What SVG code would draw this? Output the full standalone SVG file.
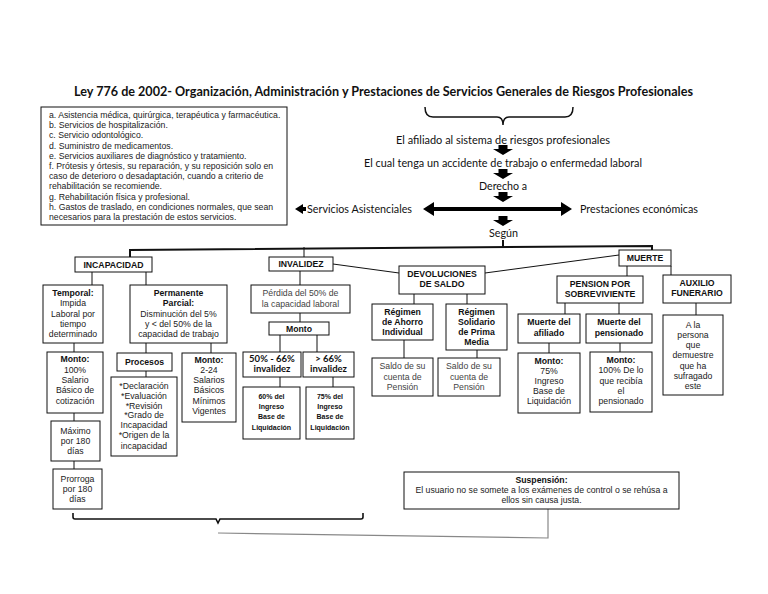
<svg xmlns="http://www.w3.org/2000/svg" xmlns:xlink="http://www.w3.org/1999/xlink" width="768" height="594" viewBox="0 0 768 594">
<defs>
<style>
.box{fill:#fff;stroke:#111;stroke-width:1}
.ln{fill:none;stroke:#111;stroke-width:1}
.thick{fill:none;stroke:#111;stroke-width:2}
text{font-family:"Liberation Sans",Arial,sans-serif;font-size:8.7px;fill:#222;text-anchor:middle}
.b{font-weight:bold;fill:#111}
.l{text-anchor:start}
.g{fill:#444}
.cal{font-family:Lato,"Open Sans",sans-serif;fill:#111}
.calb{font-family:Lato,"Open Sans",sans-serif;font-weight:bold;fill:#111}
.sm{font-size:7px;font-weight:bold;fill:#111}
</style>
<path id="down" d="M-4.5 0 H4.5 V4 H10 L0 10 L-10 4 H-4.5 Z" fill="#000"/>
</defs>
<rect width="768" height="594" fill="#fff"/>

<text class="calb" x="383.5" y="96" style="font-size:13px" textLength="619" lengthAdjust="spacingAndGlyphs">Ley 776 de 2002- Organización, Administración y Prestaciones de Servicios Generales de Riesgos Profesionales</text>

<g id="connectors">
<path class="ln" style="stroke-width:1.5" d="M425 107 Q425 117 433 117 L497 117 Q503 117 503 125 Q503 117 509 117 L565 117 Q573 117 573 107"/>
<use xlink:href="#down" x="503" y="145"/>
<use xlink:href="#down" x="503" y="169"/>
<use xlink:href="#down" x="503" y="192"/>
<use xlink:href="#down" x="503" y="216"/>
<path d="M423 209 L434 202 L434 207 L561 207 L561 202 L572 209 L561 216 L561 211 L434 211 L434 216 Z" fill="#000"/>
<path d="M295 209 L303 204 L303 207 L306 207 L306 211 L303 211 L303 214 Z" fill="#000"/>
<path class="thick" d="M503 240 L503 247"/>
<path class="thick" d="M130 257 L130 250 L652 246 L652 250"/>
<path class="ln" d="M304 247 L304 257"/>
<path class="ln" d="M92 272 L92 285 M146 272 L146 285"/>
<path class="ln" d="M74 343 L74 352 M74 413 L74 421 M74 461 L74 469"/>
<path class="ln" d="M146 343 L146 353 M146 371 L146 377 M211 343 L211 353"/>
<path class="ln" d="M300 271 L300 285 M300 313 L300 322 M280 335 L280 352 M317 335 L317 352 M280 377 L280 387 M333 377 L333 387"/>
<path class="ln" d="M333 264 L399 273 M485 273 L619 255"/>
<path class="ln" d="M414 294 L414 304 M467 294 L467 304 M404 340 L404 358 M477 350 L477 358"/>
<path class="ln" d="M627 266 L627 276 M671 266 L671 275 M696 303 L696 315"/>
<path class="ln" d="M565 303 L565 314 M619 303 L619 314 M549 343 L549 353 M620 343 L620 352"/>
<path class="ln" style="stroke-width:1.6" d="M73 513 L73 517 Q73 519 75 519 L216 519 L218 523 L220 519 L361 519 Q363 519 363 517 L363 513"/>
<path fill="none" stroke="#888" stroke-width="1.2" d="M218 533 L548 538 L548 509"/>
</g>

<g id="center-texts">
<text class="cal" x="503" y="144" style="font-size:11px" textLength="214" lengthAdjust="spacingAndGlyphs">El afiliado al sistema de riesgos profesionales</text>
<text class="cal" x="503" y="167" style="font-size:11px" textLength="278" lengthAdjust="spacingAndGlyphs">El cual tenga un accidente de trabajo o enfermedad laboral</text>
<text class="cal" x="503" y="190" style="font-size:11px" textLength="48" lengthAdjust="spacingAndGlyphs">Derecho a</text>
<text class="cal l" x="307" y="213" style="font-size:11px" textLength="105" lengthAdjust="spacingAndGlyphs">Servicios Asistenciales</text>
<text class="cal l" x="580" y="213" style="font-size:11px" textLength="118" lengthAdjust="spacingAndGlyphs">Prestaciones económicas</text>
<text class="cal" x="503.5" y="237" style="font-size:11px" textLength="29" lengthAdjust="spacingAndGlyphs">Según</text>
</g>

<g id="servicios-lista">
<rect class="box" x="41" y="107" width="246" height="118"/>
<text class="l" x="49" y="118">a. Asistencia médica, quirúrgica, terapéutica y farmacéutica.</text>
<text class="l" x="49" y="128.2">b. Servicios de hospitalización.</text>
<text class="l" x="49" y="138.4">c. Servicio odontológico.</text>
<text class="l" x="49" y="148.6">d. Suministro de medicamentos.</text>
<text class="l" x="49" y="158.8">e. Servicios auxiliares de diagnóstico y tratamiento.</text>
<text class="l" x="49" y="169">f. Prótesis y órtesis, su reparación, y su reposición solo en</text>
<text class="l" x="49" y="179.2">caso de deterioro o desadaptación, cuando a criterio de</text>
<text class="l" x="49" y="189.4">rehabilitación se recomiende.</text>
<text class="l" x="49" y="199.6">g. Rehabilitación física y profesional.</text>
<text class="l" x="49" y="209.8">h. Gastos de traslado, en condiciones normales, que sean</text>
<text class="l" x="49" y="220">necesarios para la prestación de estos servicios.</text>
</g>

<g id="incapacidad">
<rect class="box" x="75" y="257" width="77" height="15"/>
<text class="b" x="113.5" y="267.5">INCAPACIDAD</text>
</g>
<g id="temporal">
<rect class="box" x="43" y="285" width="60" height="58"/>
<text class="b" x="73" y="296">Temporal:</text>
<text x="73" y="306">Impida</text>
<text x="73" y="316.5">Laboral por</text>
<text x="73" y="327">tiempo</text>
<text x="73" y="337">determinado</text>
</g>
<g id="permanente">
<rect class="box" x="130" y="285" width="97" height="58"/>
<text class="b" x="178.5" y="296">Permanente</text>
<text class="b" x="178.5" y="306">Parcial:</text>
<text x="178.5" y="316.5">Disminución del 5%</text>
<text x="178.5" y="327">y &lt; del 50% de la</text>
<text x="178.5" y="337">capacidad de trabajo</text>
</g>
<g id="monto-temporal">
<rect class="box" x="47" y="352" width="56" height="61"/>
<text class="b" x="75" y="362">Monto:</text>
<text x="75" y="372.5">100%</text>
<text x="75" y="383">Salario</text>
<text x="75" y="393">Básico de</text>
<text x="75" y="403.5">cotización</text>
</g>
<g id="maximo">
<rect class="box" x="51" y="421" width="49" height="40"/>
<text x="75.5" y="434">Máximo</text>
<text x="75.5" y="444">por 180</text>
<text x="75.5" y="454">días</text>
</g>
<g id="prorroga">
<rect class="box" x="53" y="469" width="49" height="40"/>
<text x="77.5" y="482">Prorroga</text>
<text x="77.5" y="492">por 180</text>
<text x="77.5" y="502">días</text>
</g>
<g id="procesos">
<rect class="box" x="117" y="353" width="55" height="18"/>
<text class="b" x="144.5" y="365">Procesos</text>
</g>
<g id="procesos-lista">
<rect class="box" x="111" y="377" width="66" height="79"/>
<text x="144" y="389">*Declaración</text>
<text x="144" y="399">*Evaluación</text>
<text x="144" y="408.5">*Revisión</text>
<text x="144" y="418">*Grado de</text>
<text x="144" y="428">Incapacidad</text>
<text x="144" y="438">*Origen de la</text>
<text x="144" y="448.5">incapacidad</text>
</g>
<g id="monto-permanente">
<rect class="box" x="182" y="353" width="54" height="69"/>
<text class="b" x="209" y="362.5">Monto:</text>
<text x="209" y="373">2-24</text>
<text x="209" y="383">Salarios</text>
<text x="209" y="393">Básicos</text>
<text x="209" y="404">Mínimos</text>
<text x="209" y="414">Vigentes</text>
</g>

<g id="invalidez">
<rect class="box" x="269" y="257" width="64" height="14"/>
<text class="b" x="301" y="267">INVALIDEZ</text>
</g>
<g id="perdida">
<rect class="box" x="251" y="285" width="99" height="28"/>
<text class="g" x="300.5" y="296">Pérdida del 50% de</text>
<text class="g" x="300.5" y="306.5">la capacidad laboral</text>
</g>
<g id="monto-invalidez">
<rect class="box" x="269" y="322" width="60" height="13"/>
<text class="b" x="299" y="331.5">Monto</text>
</g>
<g id="inv-50-66">
<rect class="box" x="243" y="352" width="58" height="25"/>
<text class="calb" x="272" y="361.5" style="font-size:9.5px">50% - 66%</text>
<text class="calb" x="272" y="372" style="font-size:9.5px">invalidez</text>
</g>
<g id="inv-66">
<rect class="box" x="303" y="352" width="51" height="25"/>
<text class="calb" x="328.5" y="361.5" style="font-size:9.5px">&gt; 66%</text>
<text class="calb" x="328.5" y="372" style="font-size:9.5px">invalidez</text>
</g>
<g id="ibl-60">
<rect class="box" x="243" y="387" width="57" height="52"/>
<text class="sm" x="271.5" y="398.5">60% del</text>
<text class="sm" x="271.5" y="408.5">Ingreso</text>
<text class="sm" x="271.5" y="419">Base de</text>
<text class="sm" x="271.5" y="429.5">Liquidación</text>
</g>
<g id="ibl-75">
<rect class="box" x="306" y="387" width="48" height="52"/>
<text class="sm" x="330" y="398.5">75% del</text>
<text class="sm" x="330" y="408.5">Ingreso</text>
<text class="sm" x="330" y="419">Base de</text>
<text class="sm" x="330" y="429.5">Liquidación</text>
</g>

<g id="devoluciones">
<rect class="box" x="399" y="266" width="86" height="28"/>
<text class="b" x="442" y="277">DEVOLUCIONES</text>
<text class="b" x="442" y="287">DE SALDO</text>
</g>
<g id="regimen-ahorro">
<rect class="box" x="372" y="304" width="61" height="36"/>
<text class="b" x="402.5" y="315">Régimen</text>
<text class="b" x="402.5" y="325">de Ahorro</text>
<text class="b" x="402.5" y="335">Individual</text>
</g>
<g id="regimen-solidario">
<rect class="box" x="446" y="304" width="61" height="46"/>
<text class="b" x="476.5" y="315">Régimen</text>
<text class="b" x="476.5" y="325">Solidario</text>
<text class="b" x="476.5" y="335">de Prima</text>
<text class="b" x="476.5" y="345">Media</text>
</g>
<g id="saldo-1">
<rect class="box" x="372" y="358" width="61" height="38"/>
<text class="g" x="402.5" y="369">Saldo de su</text>
<text class="g" x="402.5" y="379.5">cuenta de</text>
<text class="g" x="402.5" y="389.5">Pensión</text>
</g>
<g id="saldo-2">
<rect class="box" x="438" y="358" width="62" height="38"/>
<text class="g" x="469" y="369">Saldo de su</text>
<text class="g" x="469" y="379.5">cuenta de</text>
<text class="g" x="469" y="389.5">Pensión</text>
</g>

<g id="muerte">
<rect class="box" x="619" y="250" width="52" height="16"/>
<text class="b" x="645" y="261">MUERTE</text>
</g>
<g id="pension">
<rect class="box" x="557" y="276" width="86" height="27"/>
<text class="b" x="600" y="287">PENSION POR</text>
<text class="b" x="600" y="297">SOBREVIVIENTE</text>
</g>
<g id="auxilio">
<rect class="box" x="663" y="275" width="68" height="28"/>
<text class="b" x="697" y="286">AUXILIO</text>
<text class="b" x="697" y="296">FUNERARIO</text>
</g>
<g id="auxilio-texto">
<rect class="box" x="663" y="315" width="60" height="80"/>
<text x="693" y="328">A la</text>
<text x="693" y="338">persona</text>
<text x="693" y="348">que</text>
<text x="693" y="358">demuestre</text>
<text x="693" y="368.5">que ha</text>
<text x="693" y="379">sufragado</text>
<text x="693" y="389">este</text>
</g>
<g id="muerte-afiliado">
<rect class="box" x="518" y="314" width="62" height="29"/>
<text class="b" x="549" y="325">Muerte del</text>
<text class="b" x="549" y="336">afiliado</text>
</g>
<g id="muerte-pensionado">
<rect class="box" x="586" y="314" width="66" height="29"/>
<text class="b" x="619" y="325">Muerte del</text>
<text class="b" x="619" y="336">pensionado</text>
</g>
<g id="monto-afiliado">
<rect class="box" x="518" y="353" width="62" height="60"/>
<text class="b" x="549" y="364">Monto:</text>
<text x="549" y="374">75%</text>
<text x="549" y="384">Ingreso</text>
<text x="549" y="394">Base de</text>
<text x="549" y="404">Liquidación</text>
</g>
<g id="monto-pensionado">
<rect class="box" x="590" y="352" width="62" height="60"/>
<text class="b" x="621" y="363">Monto:</text>
<text x="621" y="373">100% De lo</text>
<text x="621" y="383.5">que recibía</text>
<text x="621" y="394">el</text>
<text x="621" y="404">pensionado</text>
</g>

<g id="suspension">
<rect class="box" x="404" y="472" width="275" height="37"/>
<text class="b" x="541.5" y="483">Suspensión:</text>
<text x="541.5" y="493">El usuario no se somete a los exámenes de control o se rehúsa a</text>
<text x="541.5" y="502.5">ellos sin causa justa.</text>
</g>
</svg>
